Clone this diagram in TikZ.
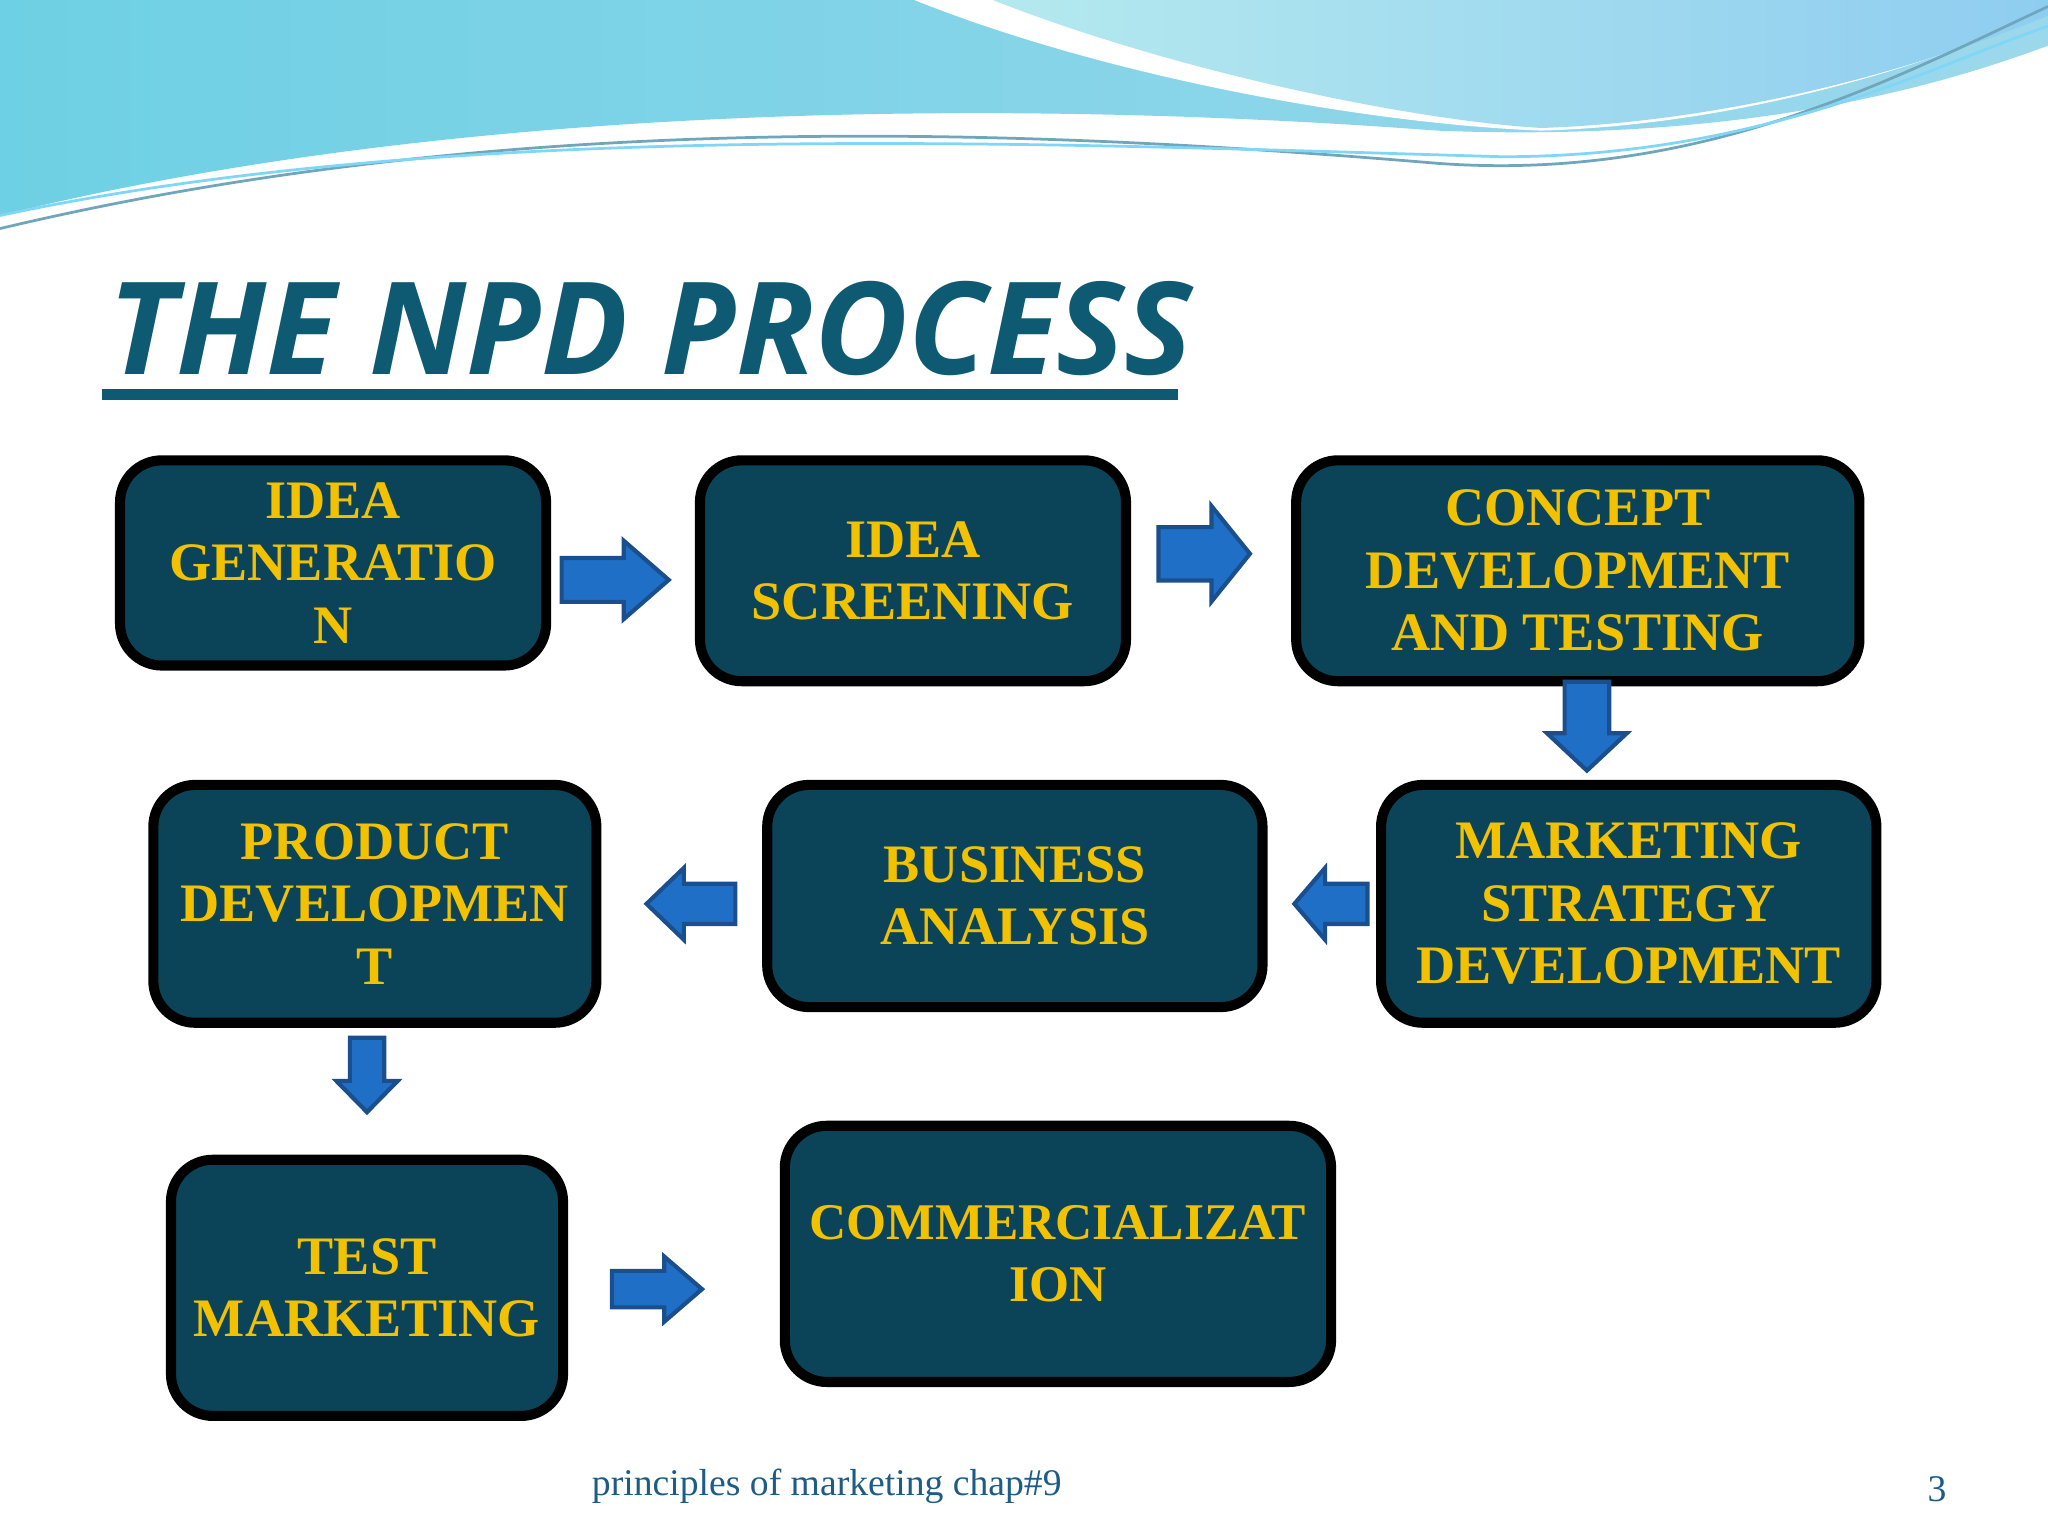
\documentclass[tikz,border=0pt]{standalone}
\usepackage{fontspec}
\setmainfont{Liberation Serif}
\newfontfamily\titlefont{Open Sans}
\definecolor{boxfill}{HTML}{0B4459}
\definecolor{boxtext}{HTML}{F2C200}
\definecolor{arrowblue}{HTML}{1F6FC6}
\definecolor{arrowedge}{HTML}{1A4E8C}
\definecolor{titleblue}{HTML}{0E5A73}
\definecolor{waveA}{HTML}{6ED0E4}
\definecolor{waveB}{HTML}{9CD8EC}
\definecolor{waveC}{HTML}{B4E9EE}
\definecolor{waveD}{HTML}{8FCDF0}
\definecolor{footc}{HTML}{1D5C86}
% #1 x, #2 y, #3 rotation, #4 length, #5 head width
\newcommand{\myblockarrow}[5]{%
  \begin{scope}[shift={(#1,#2)},rotate=#3]
    \draw[blockarr] (-#4/2,-#5*0.28) -- (#4/2-#4*0.42,-#5*0.28) -- (#4/2-#4*0.42,-#5/2)
      -- (#4/2,0) -- (#4/2-#4*0.42,#5/2) -- (#4/2-#4*0.42,#5*0.28) -- (-#4/2,#5*0.28) -- cycle;
  \end{scope}}
\begin{document}
\begin{tikzpicture}[x=0.01cm,y=-0.01cm,
  stage/.style={draw=black,line width=2.2pt,fill=boxfill,rounded corners=0.32cm,
    text=boxtext,font=\fontsize{11.8}{13.6}\selectfont\bfseries,align=center,inner sep=0pt},
  blockarr/.style={draw=arrowedge,fill=arrowblue,line width=0.9pt,line join=miter}]
\useasboundingbox (0,0) rectangle (1568,1176);
% top wave
\shade[left color=waveA,right color=waveB,draw=none]
  (0,0) -- (0,165) .. controls (300,90) and (700,70) .. (1100,100)
  .. controls (1350,110) and (1500,60) .. (1568,35) -- (1568,0) -- cycle;
\fill[white] (700,0) .. controls (850,60) and (1050,95) .. (1180,100)
  .. controls (1350,95) and (1500,40) .. (1568,10) -- (1568,0) -- cycle;
\shade[left color=waveC,right color=waveD]
  (760,0) .. controls (900,55) and (1080,92) .. (1180,98)
  .. controls (1350,92) and (1500,40) .. (1568,12) -- (1568,0) -- cycle;
\draw[cyan!60!black!70,line width=0.6pt] (0,175) .. controls (400,80) and (800,100) .. (1100,125) .. controls (1300,140) and (1450,60) .. (1568,5);
\draw[cyan!50,line width=0.6pt] (0,165) .. controls (350,90) and (800,110) .. (1150,120) .. controls (1350,120) and (1480,50) .. (1568,20);
% title
\node[anchor=base west,inner sep=0pt,text=titleblue,font=\titlefont\fontsize{28}{30}\selectfont\bfseries\itshape] (title) at (82,287) {THE NPD PROCESS};
\draw[titleblue,line width=2.4pt] (78,302) -- (902,302);
% boxes
\node[stage,minimum width=3.26cm,minimum height=1.57cm] (b1) at (255,431) {IDEA\\GENERATIO\\N};
\node[stage,minimum width=3.26cm,minimum height=1.69cm] (b2) at (699,437) {IDEA\\SCREENING};
\node[stage,minimum width=4.31cm,minimum height=1.69cm] (b3) at (1208,437) {CONCEPT\\DEVELOPMENT\\AND TESTING};
\node[stage,minimum width=3.79cm,minimum height=1.82cm] (b4) at (1247,692) {MARKETING\\STRATEGY\\DEVELOPMENT};
\node[stage,minimum width=3.79cm,minimum height=1.70cm] (b5) at (777,686) {BUSINESS\\ANALYSIS};
\node[stage,minimum width=3.39cm,minimum height=1.82cm] (b6) at (287,692) {PRODUCT\\DEVELOPMEN\\T};
\node[stage,minimum width=3.00cm,minimum height=1.96cm] (b7) at (281,986) {TEST\\MARKETING};
\node[stage,minimum width=4.18cm,minimum height=1.96cm,font=\fontsize{11.2}{13.6}\selectfont\bfseries] (b8) at (810,960) {COMMERCIALIZAT\\ION};
% arrows
\myblockarrow{471}{444}{0}{82}{60}
\myblockarrow{922}{424}{0}{70}{73}
\myblockarrow{1215}{556}{-90}{68}{61}
\myblockarrow{1019}{692}{180}{56}{55}
\myblockarrow{529}{692}{180}{68}{55}
\myblockarrow{281}{823}{-90}{57}{47}
\myblockarrow{503}{987}{0}{69}{50}
% footer
\node[text=footc,font=\fontsize{8.2}{10}\selectfont] (foot) at (633,1138) {principles of marketing chap\#9};
\node[text=footc,font=\fontsize{8.2}{10}\selectfont] (pg) at (1483,1140) {3};
\end{tikzpicture}
\end{document}
